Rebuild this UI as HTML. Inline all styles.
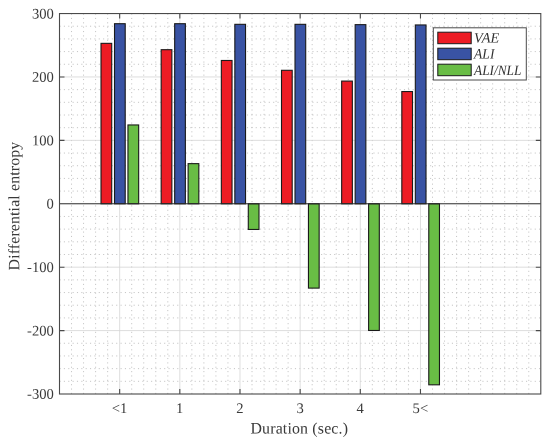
<!DOCTYPE html>
<html lang="en"><head><meta charset="utf-8"><title>Differential entropy vs duration</title>
<style>html,body{margin:0;padding:0;background:#fff}body{width:550px;height:442px;overflow:hidden}</style></head>
<body>
<svg width="550" height="442" viewBox="0 0 550 442" style="display:block;font-family:'Liberation Serif',serif">
<rect width="550" height="442" fill="#fff"/>
<path d="M71.53 13.55V394.0M83.56 13.55V394.0M95.60 13.55V394.0M107.63 13.55V394.0M131.69 13.55V394.0M143.73 13.55V394.0M155.76 13.55V394.0M167.79 13.55V394.0M191.86 13.55V394.0M203.89 13.55V394.0M215.92 13.55V394.0M227.95 13.55V394.0M252.02 13.55V394.0M264.05 13.55V394.0M276.08 13.55V394.0M288.12 13.55V394.0M312.18 13.55V394.0M324.21 13.55V394.0M336.25 13.55V394.0M348.28 13.55V394.0M372.34 13.55V394.0M384.38 13.55V394.0M396.41 13.55V394.0M408.44 13.55V394.0M432.51 13.55V394.0M444.54 13.55V394.0M456.57 13.55V394.0M468.60 13.55V394.0M480.64 13.55V394.0M492.67 13.55V394.0M504.70 13.55V394.0M516.73 13.55V394.0M528.77 13.55V394.0M59.5 26.23H540.8M59.5 38.91H540.8M59.5 51.59H540.8M59.5 64.28H540.8M59.5 89.64H540.8M59.5 102.32H540.8M59.5 115.00H540.8M59.5 127.68H540.8M59.5 153.05H540.8M59.5 165.73H540.8M59.5 178.41H540.8M59.5 191.09H540.8M59.5 216.46H540.8M59.5 229.14H540.8M59.5 241.82H540.8M59.5 254.50H540.8M59.5 279.87H540.8M59.5 292.55H540.8M59.5 305.23H540.8M59.5 317.91H540.8M59.5 343.27H540.8M59.5 355.95H540.8M59.5 368.64H540.8M59.5 381.32H540.8" stroke="#b6b6b6" stroke-width="0.8" stroke-dasharray="1.1 3.26" fill="none"/>
<path d="M119.66 13.55V394.0M179.82 13.55V394.0M239.99 13.55V394.0M300.15 13.55V394.0M360.31 13.55V394.0M420.47 13.55V394.0M59.5 76.96H540.8M59.5 140.37H540.8M59.5 267.18H540.8M59.5 330.59H540.8" stroke="#d6d6d6" stroke-width="0.8" fill="none"/>
<rect x="101.01" y="43.35" width="10.7" height="160.42" fill="#ed1c24" stroke="#1a1a1a" stroke-width="1.1"/>
<rect x="114.51" y="23.70" width="10.7" height="180.08" fill="#3953a4" stroke="#1a1a1a" stroke-width="1.1"/>
<rect x="127.96" y="124.96" width="10.7" height="78.82" fill="#69bd45" stroke="#1a1a1a" stroke-width="1.1"/>
<rect x="161.17" y="49.69" width="10.7" height="154.08" fill="#ed1c24" stroke="#1a1a1a" stroke-width="1.1"/>
<rect x="174.67" y="23.70" width="10.7" height="180.08" fill="#3953a4" stroke="#1a1a1a" stroke-width="1.1"/>
<rect x="188.12" y="163.64" width="10.7" height="40.14" fill="#69bd45" stroke="#1a1a1a" stroke-width="1.1"/>
<rect x="221.34" y="60.47" width="10.7" height="143.30" fill="#ed1c24" stroke="#1a1a1a" stroke-width="1.1"/>
<rect x="234.84" y="24.33" width="10.7" height="179.45" fill="#3953a4" stroke="#1a1a1a" stroke-width="1.1"/>
<rect x="248.29" y="203.78" width="10.7" height="25.68" fill="#69bd45" stroke="#1a1a1a" stroke-width="1.1"/>
<rect x="281.50" y="70.30" width="10.7" height="133.47" fill="#ed1c24" stroke="#1a1a1a" stroke-width="1.1"/>
<rect x="295.00" y="24.33" width="10.7" height="179.45" fill="#3953a4" stroke="#1a1a1a" stroke-width="1.1"/>
<rect x="308.45" y="203.78" width="10.7" height="84.33" fill="#69bd45" stroke="#1a1a1a" stroke-width="1.1"/>
<rect x="341.66" y="81.08" width="10.7" height="122.70" fill="#ed1c24" stroke="#1a1a1a" stroke-width="1.1"/>
<rect x="355.16" y="24.65" width="10.7" height="179.13" fill="#3953a4" stroke="#1a1a1a" stroke-width="1.1"/>
<rect x="368.61" y="203.78" width="10.7" height="126.69" fill="#69bd45" stroke="#1a1a1a" stroke-width="1.1"/>
<rect x="401.82" y="91.54" width="10.7" height="112.23" fill="#ed1c24" stroke="#1a1a1a" stroke-width="1.1"/>
<rect x="415.32" y="24.96" width="10.7" height="178.81" fill="#3953a4" stroke="#1a1a1a" stroke-width="1.1"/>
<rect x="428.77" y="203.78" width="10.7" height="181.03" fill="#69bd45" stroke="#1a1a1a" stroke-width="1.1"/>
<path d="M59.5 203.78H540.8" stroke="#2a2a2a" stroke-width="1"/>
<rect x="59.5" y="13.55" width="481.29999999999995" height="380.45" fill="none" stroke="#4a4a4a" stroke-width="1.1"/>
<path d="M119.66 13.55v5M119.66 394.0v-5M179.82 13.55v5M179.82 394.0v-5M239.99 13.55v5M239.99 394.0v-5M300.15 13.55v5M300.15 394.0v-5M360.31 13.55v5M360.31 394.0v-5M420.47 13.55v5M420.47 394.0v-5M59.5 76.96h5M540.8 76.96h-5M59.5 140.37h5M540.8 140.37h-5M59.5 267.18h5M540.8 267.18h-5M59.5 330.59h5M540.8 330.59h-5" stroke="#4a4a4a" stroke-width="1.1" fill="none"/>
<text transform="translate(53.8 18.40) rotate(0.03)" font-size="14.6" text-anchor="end" fill="#3a3a3a">300</text>
<text transform="translate(53.8 81.81) rotate(0.03)" font-size="14.6" text-anchor="end" fill="#3a3a3a">200</text>
<text transform="translate(53.8 145.22) rotate(0.03)" font-size="14.6" text-anchor="end" fill="#3a3a3a">100</text>
<text transform="translate(53.8 208.62) rotate(0.03)" font-size="14.6" text-anchor="end" fill="#3a3a3a">0</text>
<text transform="translate(53.8 272.03) rotate(0.03)" font-size="14.6" text-anchor="end" fill="#3a3a3a">-100</text>
<text transform="translate(53.8 335.44) rotate(0.03)" font-size="14.6" text-anchor="end" fill="#3a3a3a">-200</text>
<text transform="translate(53.8 398.85) rotate(0.03)" font-size="14.6" text-anchor="end" fill="#3a3a3a">-300</text>
<text transform="translate(119.56 413.0) rotate(0.03)" font-size="14.6" text-anchor="middle" fill="#3a3a3a">&lt;1</text>
<text transform="translate(179.72 413.0) rotate(0.03)" font-size="14.6" text-anchor="middle" fill="#3a3a3a">1</text>
<text transform="translate(239.89 413.0) rotate(0.03)" font-size="14.6" text-anchor="middle" fill="#3a3a3a">2</text>
<text transform="translate(300.05 413.0) rotate(0.03)" font-size="14.6" text-anchor="middle" fill="#3a3a3a">3</text>
<text transform="translate(360.21 413.0) rotate(0.03)" font-size="14.6" text-anchor="middle" fill="#3a3a3a">4</text>
<text transform="translate(420.37 413.0) rotate(0.03)" font-size="14.6" text-anchor="middle" fill="#3a3a3a">5&lt;</text>
 <text transform="translate(299.3 433.55) rotate(0.03)" font-size="15.9" letter-spacing="0.157" text-anchor="middle" fill="#3a3a3a">Duration (sec.)</text>
<text transform="translate(19.2 206.05) rotate(-89.97)" font-size="15.8" letter-spacing="0.158" text-anchor="middle" fill="#3a3a3a">Differential entropy</text>
<rect x="433.3" y="27.8" width="93" height="52.2" fill="#fff" stroke="#4a4a4a" stroke-width="1"/>
<rect x="437.8" y="32.20" width="33.4" height="11.5" fill="#ed1c24" stroke="#1a1a1a" stroke-width="1"/>
 <text transform="translate(474.1 42.50) rotate(0.03)" font-size="14.3" font-style="italic" fill="#333" textLength="25.1" lengthAdjust="spacingAndGlyphs">VAE</text>
<rect x="437.8" y="48.20" width="33.4" height="11.5" fill="#3953a4" stroke="#1a1a1a" stroke-width="1"/>
 <text transform="translate(474.1 58.50) rotate(0.03)" font-size="14.3" font-style="italic" fill="#333" textLength="20.3" lengthAdjust="spacingAndGlyphs">ALI</text>
<rect x="437.8" y="64.20" width="33.4" height="11.5" fill="#69bd45" stroke="#1a1a1a" stroke-width="1"/>
 <text transform="translate(474.1 74.50) rotate(0.03)" font-size="14.3" font-style="italic" fill="#333" textLength="47.3" lengthAdjust="spacingAndGlyphs">ALI/NLL</text>
</svg>
</body></html>
